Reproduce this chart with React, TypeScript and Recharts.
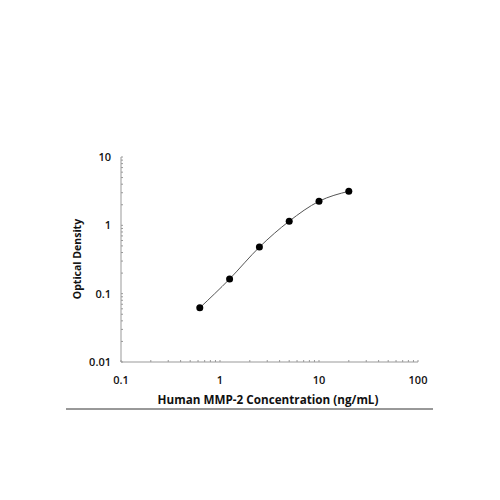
import { LineChart, Line, XAxis, YAxis } from 'recharts';

// standard curve readings
const concentrations = [0.625, 1.25, 2.5, 5, 10, 20];
const densities = [0.062, 0.164, 0.48, 1.15, 2.25, 3.15];

const xTicks = [
  0.1, 0.2, 0.3, 0.4, 0.5, 0.6, 0.7, 0.8, 0.9,
  1, 2, 3, 4, 5, 6, 7, 8, 9,
  10, 20, 30, 40, 50, 60, 70, 80, 90,
  100,
];
const yTicks = [
  0.01, 0.02, 0.03, 0.04, 0.05, 0.06, 0.07, 0.08, 0.09,
  0.1, 0.2, 0.3, 0.4, 0.5, 0.6, 0.7, 0.8, 0.9,
  1, 2, 3, 4, 5, 6, 7, 8, 9,
  10,
];
const xLabels = [0.1, 1, 10, 100];
const yLabels = [0.01, 0.1, 1, 10];

const data = concentrations.map((c, i) => ({ x: c, y: densities[i] }));

const FONT = '"Open Sans", sans-serif';
const AXIS = '#999';

function XTick({ x, y, payload }: any) {
  const v = payload.value;
  return (
    <g>
      <line x1={x} x2={x} y1={y} y2={y - 2} stroke={AXIS} strokeWidth={1} />
      {xLabels.includes(v) && (
        <text x={x} y={y + 22} textAnchor="middle" fontSize={11} fontWeight={600} fill="#111" fontFamily={FONT}>
          {String(v)}
        </text>
      )}
    </g>
  );
}

function YTick({ x, y, payload }: any) {
  const v = payload.value;
  return (
    <g>
      <line x1={x} x2={x + 2} y1={y} y2={y} stroke={AXIS} strokeWidth={1} />
      {yLabels.includes(v) && (
        <text x={x - 10} y={y + 4} textAnchor="end" fontSize={11} fontWeight={600} fill="#111" fontFamily={FONT}>
          {String(v)}
        </text>
      )}
    </g>
  );
}

export default function App() {
  return (
    <div style={{ position: 'absolute', left: 0, top: 0, width: 500, height: 500, background: '#fff' }}>
      <LineChart
        width={500}
        height={500}
        data={data}
        margin={{ top: 157, right: 82, bottom: 108, left: 61 }}
      >
        <XAxis
          dataKey="x"
          type="number"
          scale="log"
          domain={[0.1, 100]}
          ticks={xTicks}
          interval={0}
          allowDataOverflow
          height={30}
          tickSize={0}
          tickMargin={0}
          stroke={AXIS}
          tick={<XTick />}
        />
        <YAxis
          dataKey="y"
          type="number"
          scale="log"
          domain={[0.01, 10]}
          ticks={yTicks}
          interval={0}
          allowDataOverflow
          width={60}
          tickSize={0}
          tickMargin={0}
          stroke={AXIS}
          tick={<YTick />}
        />
        <Line
          type="monotone"
          dataKey="y"
          stroke="#555"
          strokeWidth={1}
          dot={{ r: 3.5, fill: '#000', stroke: '#000', strokeWidth: 0 }}
          activeDot={false}
          isAnimationActive={false}
        />
      </LineChart>
      <svg
        width={500}
        height={500}
        style={{ position: 'absolute', left: 0, top: 0, pointerEvents: 'none' }}
      >
        <text
          transform="translate(81, 259) rotate(-90)"
          textAnchor="middle"
          fontFamily={FONT}
          fontWeight={700}
          fontSize={10.5}
          fill="#111"
        >
          Optical Density
        </text>
        <text
          x={268}
          y={404}
          textAnchor="middle"
          fontFamily={FONT}
          fontWeight={700}
          fontSize={11.7}
          fill="#111"
        >
          Human MMP-2 Concentration (ng/mL)
        </text>
        <line x1={66} x2={433} y1={409} y2={409} stroke="#333" strokeWidth={1} />
      </svg>
    </div>
  );
}
